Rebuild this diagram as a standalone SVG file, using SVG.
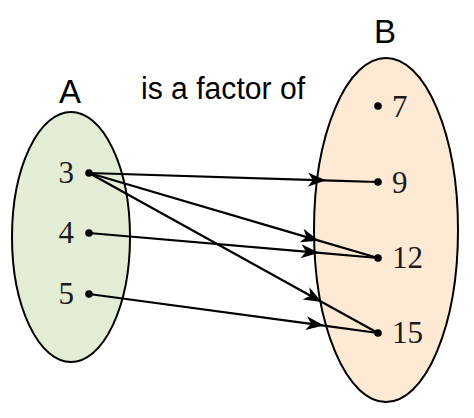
<svg xmlns="http://www.w3.org/2000/svg" width="474" height="418" viewBox="0 0 474 418">
<style>
.set{stroke:#000;stroke-width:2}
.num{font-family:"Liberation Serif","Times New Roman",serif;font-size:31px;fill:#1a1a1a}
.lbl{font-family:"Liberation Sans",Arial,sans-serif;font-size:33px;fill:#000}
.dot{fill:#000}
.edge{fill:none;stroke:#000;stroke-width:2.2;marker-mid:url(#arr)}
</style>
<defs>
<marker id="arr" markerUnits="userSpaceOnUse" markerWidth="22" markerHeight="18" viewBox="-18 -9 22 18" refX="0" refY="0" orient="auto">
<path d="M2,0 L-16,-7 L-11,0 L-16,7 Z" fill="#000"/>
</marker>
</defs>
<rect width="474" height="418" fill="#fff"/>
<g id="setA">
<ellipse class="set" cx="71" cy="237" rx="59" ry="125" fill="#e3edd6"/>
<text class="lbl" x="70" y="103" text-anchor="middle">A</text>
</g>
<g id="setB">
<ellipse class="set" cx="386" cy="230" rx="72" ry="172" fill="#fde9d4"/>
<text class="lbl" x="385" y="43" text-anchor="middle">B</text>
</g>
<text id="relation" class="lbl" style="font-size:31px" x="141" y="99" textLength="164" lengthAdjust="spacingAndGlyphs">is a factor of</text>
<g id="a3"><circle class="dot" cx="89" cy="173" r="3.8"/><text class="num" x="74" y="183" text-anchor="end">3</text></g>
<g id="a4"><circle class="dot" cx="89" cy="233" r="3.8"/><text class="num" x="74" y="243" text-anchor="end">4</text></g>
<g id="a5"><circle class="dot" cx="89" cy="294" r="3.8"/><text class="num" x="74" y="304" text-anchor="end">5</text></g>
<g id="b7"><circle class="dot" cx="378" cy="106" r="3.8"/><text class="num" x="392" y="117">7</text></g>
<g id="b9"><circle class="dot" cx="378" cy="182" r="3.8"/><text class="num" x="392" y="193">9</text></g>
<g id="b12"><circle class="dot" cx="378" cy="258" r="3.8"/><text class="num" x="392" y="268">12</text></g>
<g id="b15"><circle class="dot" cx="378" cy="333" r="3.8"/><text class="num" x="392" y="343">15</text></g>
<g id="connectors">
<path class="edge" d="M89,173 L324,180.3 L378,182"/>
<path class="edge" d="M89,173 L317,240.1 L378,258"/>
<path class="edge" d="M89,233 L317,252.7 L378,258"/>
<path class="edge" d="M89,173 L320,301 L378,333"/>
<path class="edge" d="M89,294 L322,325.3 L378,333"/>
</g>
</svg>
